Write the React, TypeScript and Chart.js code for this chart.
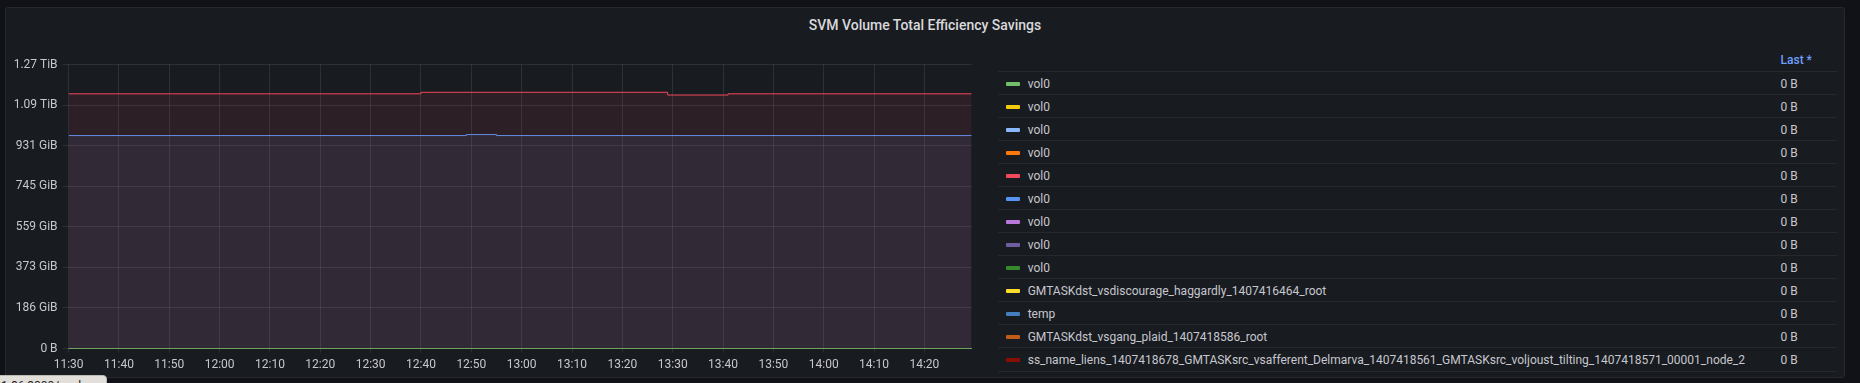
import React, { useEffect, useRef } from "react";
import { Chart, registerables } from "chart.js";

Chart.register(...registerables);

// ---- Data ----
const panelTitle = "SVM Volume Total Efficiency Savings";

const seriesNames = [
  "vol0",
  "vol0",
  "vol0",
  "vol0",
  "vol0",
  "vol0",
  "vol0",
  "vol0",
  "vol0",
  "GMTASKdst_vsdiscourage_haggardly_1407416464_root",
  "temp",
  "GMTASKdst_vsgang_plaid_1407418586_root",
  "ss_name_liens_1407418678_GMTASKsrc_vsafferent_Delmarva_1407418561_GMTASKsrc_voljoust_tilting_1407418571_00001_node_2",
];

const seriesColors = [
  "#73BF69",
  "#F2CC0C",
  "#8AB8FF",
  "#FF780A",
  "#F2495C",
  "#5794F2",
  "#B877D9",
  "#705DA0",
  "#37872D",
  "#FADE2A",
  "#447EBC",
  "#C15C17",
  "#890F02",
];

// drawing priority (lower = drawn later, on top)
const seriesOrder = [0, 3, 4, 5, 6, 7, 8, 2, 1, 9, 10, 11, 12];

const lastValues = [
  "0 B", "0 B", "0 B", "0 B", "0 B", "0 B", "0 B",
  "0 B", "0 B", "0 B", "0 B", "0 B", "0 B",
];

// time in minutes after 11:30
const startMinuteOfDay = 690; // 11:30
const rangeEnd = 179.4;
const xTickStep = 10;

// y axis in bytes
const yMax = 1.4e12;
const yStep = 2e11;

// red vol0 (series index 4) – step changes
const redTimes = [0, 70, 119, 131, 179.4];
const redValues = [1.2555e12, 1.263e12, 1.2495e12, 1.2555e12, 1.2555e12];

// blue vol0 (series index 5)
const blueTimes = [0, 79, 85, 179.4];
const blueValues = [1.0497e12, 1.0546e12, 1.0497e12, 1.0497e12];

// all other series sit at zero
const zeroTimes = [0, 179.4];
const zeroValues = [0, 0];

// ---- helpers ----
function hexToRgba(hex: string, a: number) {
  const n = parseInt(hex.slice(1), 16);
  return `rgba(${(n >> 16) & 255},${(n >> 8) & 255},${n & 255},${a})`;
}

function formatBytes(v: number) {
  if (v === 0) return "0 B";
  const tib = Math.pow(1024, 4);
  const gib = Math.pow(1024, 3);
  if (v >= tib) return (v / tib).toFixed(2) + " TiB";
  return Math.round(v / gib) + " GiB";
}

function formatTime(v: number) {
  const m = startMinuteOfDay + Math.round(v);
  const h = Math.floor(m / 60);
  const mm = m % 60;
  return `${h}:${mm < 10 ? "0" + mm : mm}`;
}

const FONT = "Roboto, 'Noto Sans', sans-serif";
const CANVAS_W = 985;
const CANVAS_H = 383;
const PLOT_LEFT = 68.6;
const PLOT_RIGHT = 971.7;
const PLOT_TOP = 64.5;
const PLOT_BOTTOM = 348.5;
const X_AXIS_H = 24;

export default function App() {
  const canvasRef = useRef<HTMLCanvasElement>(null);

  useEffect(() => {
    const canvas = canvasRef.current;
    if (!canvas) return;
    const datasets = seriesNames.map((name, i) => {
      let times = zeroTimes;
      let vals = zeroValues;
      if (i === 4) {
        times = redTimes;
        vals = redValues;
      } else if (i === 5) {
        times = blueTimes;
        vals = blueValues;
      }
      return {
        label: name,
        data: times.map((t, k) => ({ x: t, y: vals[k] })),
        borderColor: seriesColors[i],
        backgroundColor: hexToRgba(seriesColors[i], 0.095),
        borderWidth: 1,
        pointRadius: 0,
        fill: "origin" as const,
        stepped: "before" as const,
        order: seriesOrder[i],
      };
    });

    const chart = new Chart(canvas, {
      type: "line",
      data: { datasets },
      options: {
        animation: false,
        responsive: false,
        devicePixelRatio: 1,
        layout: {
          padding: {
            left: 0,
            right: CANVAS_W - PLOT_RIGHT,
            top: PLOT_TOP,
            bottom: CANVAS_H - PLOT_BOTTOM - X_AXIS_H,
          },
        },
        plugins: {
          legend: { display: false },
          tooltip: { enabled: false },
          title: { display: false },
        },
        scales: {
          x: {
            type: "linear",
            min: 0,
            max: rangeEnd,
            afterFit: (s: any) => {
              s.height = X_AXIS_H;
            },
            border: { display: false },
            grid: {
              color: "rgba(204,204,220,0.12)",
              drawTicks: true,
              tickLength: 4,
            },
            ticks: {
              stepSize: xTickStep,
              includeBounds: false,
              autoSkip: false,
              maxRotation: 0,
              padding: 5.5,
              color: "#c7c7cf",
              font: { family: FONT, size: 12 },
              callback: (v: any) => formatTime(Number(v)),
            },
          },
          y: {
            type: "linear",
            min: 0,
            max: yMax,
            afterFit: (s: any) => {
              s.width = PLOT_LEFT;
            },
            border: { display: false },
            grid: {
              color: "rgba(204,204,220,0.12)",
              drawTicks: true,
              tickLength: 6,
            },
            ticks: {
              stepSize: yStep,
              padding: 5,
              color: "#c7c7cf",
              font: { family: FONT, size: 12 },
              callback: (v: any) => formatBytes(Number(v)),
            },
          },
        },
      },
    });
    return () => chart.destroy();
  }, []);

  const rowTop0 = 72;
  const rowH = 23.03;

  return (
    <div
      style={{
        position: "fixed",
        left: 0,
        top: 0,
        width: 1860,
        height: 383,
        background: "#111217",
        overflow: "hidden",
        fontFamily: FONT,
      }}
    >
      <div
        style={{
          position: "absolute",
          left: 5,
          top: 7,
          width: 1838,
          height: 369,
          background: "#181b1f",
          border: "1px solid #26282d",
          borderRadius: 3,
        }}
      />
      <div
        style={{
          position: "absolute",
          left: 5,
          top: 16,
          width: 1840,
          textAlign: "center",
          color: "#d8d9dc",
          fontSize: 14,
          fontWeight: 500,
          lineHeight: "18px",
        }}
      >
        {panelTitle}
      </div>
      <canvas
        ref={canvasRef}
        width={CANVAS_W}
        height={CANVAS_H}
        style={{ position: "absolute", left: 0, top: 0, width: CANVAS_W, height: CANVAS_H }}
      />
      {/* legend header */}
      <div
        style={{
          position: "absolute",
          left: 1780.5,
          top: 52,
          color: "#6e9fff",
          fontSize: 12,
          fontWeight: 500,
          lineHeight: "16px",
        }}
      >
        Last *
      </div>
      {/* legend rows */}
      {seriesNames.map((name, i) => (
        <div
          key={i}
          style={{
            position: "absolute",
            left: 998,
            top: rowTop0 + i * rowH - 1,
            width: 839,
            height: rowH,
            borderTop: "1px solid #26282c",
            borderBottom: i === seriesNames.length - 1 ? "1px solid #26282c" : "none",
          }}
        >
          <div
            style={{
              position: "absolute",
              left: 8,
              top: 9.5,
              width: 14,
              height: 4,
              background: seriesColors[i],
              borderRadius: 1,
            }}
          />
          <div
            style={{
              position: "absolute",
              left: 29.7,
              top: 3.5,
              color: "#c7c7cf",
              fontSize: 12,
              lineHeight: "16px",
              whiteSpace: "nowrap",
            }}
          >
            {name}
          </div>
          <div
            style={{
              position: "absolute",
              left: 782.5,
              top: 3.5,
              color: "#c7c7cf",
              fontSize: 12,
              fontWeight: 400,
              lineHeight: "16px",
              whiteSpace: "nowrap",
            }}
          >
            {lastValues[i]}
          </div>
        </div>
      ))}
      {/* browser status overlay */}
      <div
        style={{
          position: "absolute",
          left: -6,
          top: 375,
          padding: "2px 8px 4px 6px",
          background: "#e2dfdb",
          color: "#1b1b1b",
          fontSize: 12,
          lineHeight: "16px",
          borderTopRightRadius: 4,
          border: "1px solid #bdb9b4",
          whiteSpace: "nowrap",
        }}
      >
        1.86:3000/explore
      </div>
    </div>
  );
}
